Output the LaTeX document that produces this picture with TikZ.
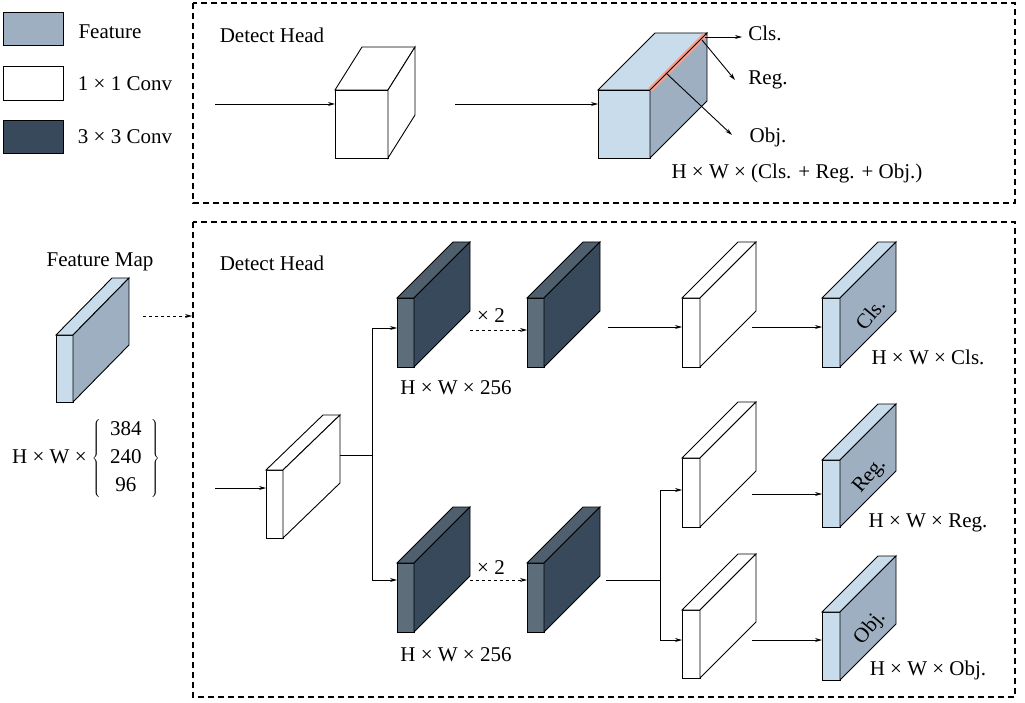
\documentclass[tikz,border=0pt]{standalone}
\usepackage{fontspec}
\setmainfont{Liberation Serif}
\usetikzlibrary{arrows.meta}
\definecolor{lb}{HTML}{C9DCEC}
\definecolor{gb}{HTML}{9DAFC0}
\definecolor{dkf}{HTML}{5D6D7A}
\definecolor{dkt}{HTML}{4F5F6D}
\definecolor{dks}{HTML}{37495A}
\definecolor{hl}{HTML}{F4A090}
\newcommand\cub[9]{%
\filldraw[fill=#7] (#1,#2) rectangle ++(#3,#4);
\filldraw[fill=#8] (#1,#2) -- ++(#5,-#6) -- ++(#3,0) -- ++(-#5,#6) -- cycle;
\filldraw[fill=#9] (#1+#3,#2) -- ++(#5,-#6) -- ++(0,#4) -- ++(-#5,#6) -- cycle;}
\begin{document}
\begin{tikzpicture}[x=1pt,y=-1pt,line width=0.9pt,
  txt/.style={font=\fontsize{21}{24}\selectfont,inner sep=0pt},
  arr/.style={-{Stealth[length=7pt,width=4pt]}},
  dbox/.style={dashed,line width=1.3pt,dash pattern=on 6pt off 4pt}]
\useasboundingbox (0,0) rectangle (1025,703);
% legend
\filldraw[fill=gb] (3,12) rectangle (63,45);
\node[txt] (lf) at (110,32) {Feature};
\filldraw[fill=white] (3,66) rectangle (63,100);
\node[txt] (l1) at (125,84) {1 × 1 Conv};
\filldraw[fill=dks] (3,120) rectangle (63,153);
\node[txt] (l3) at (125,137) {3 × 3 Conv};
% top box
\draw[dbox] (193,3) rectangle (1015,203);
\node[txt] (dh1) at (272,35) {Detect Head};
\coordinate (a0) at (215,104); \coordinate (a1) at (335,104);
\draw[arr] (a0) -- (a1);
\cub{335}{90}{53}{68}{27}{43}{white}{white}{white}
\coordinate (b0) at (455,104); \coordinate (b1) at (598,104);
\draw[arr] (b0) -- (b1);
\cub{598}{90}{52}{68}{57}{57}{lb}{lb}{gb}
\draw[hl,line width=5pt] (650,90) -- (705,35);
\draw (650,90) -- (707,33);
\node[txt] (cls) at (765,33) {Cls.};
\node[txt] (reg) at (768,80) {Reg.};
\node[txt] (obj) at (768,137) {Obj.};
\coordinate (c0) at (705,37); \coordinate (c1) at (742,37);
\coordinate (r0) at (702,40); \coordinate (r1) at (735,80);
\coordinate (o0) at (666,73); \coordinate (o1) at (732,135);
\draw[arr] (c0) -- (c1);
\draw[arr] (r0) -- (r1);
\draw[arr] (o0) -- (o1);
\node[txt] (hw1) at (797,173) {H × W × (Cls. + Reg. + Obj.)};
% bottom
\node[txt] (fm) at (100,262) {Feature Map};
\cub{56}{335}{17}{67}{56}{57}{lb}{lb}{gb}
\coordinate (d0) at (143,316); \coordinate (d1) at (192,316);
\draw[arr,dashed] (d0) -- (d1);
\node[txt] (dims) at (86,458) {H × W × $\left\{\vcenter{\hbox{\renewcommand\arraystretch{1.15}\begin{tabular}{@{\;\,}c@{\;\,}}384\\240\\96\end{tabular}}}\right\}$};
\draw[dbox] (193,222) rectangle (1015,697);
\node[txt] (dh2) at (272,263) {Detect Head};
\coordinate (e0) at (215,488); \coordinate (e1) at (266,488);
\draw[arr] (e0) -- (e1);
\cub{266}{470}{17}{68}{57}{55}{white}{white}{white}
\coordinate (s0) at (340,455); \coordinate (s1) at (372,455);
\coordinate (u1) at (397,328); \coordinate (l1b) at (397,580);
\draw (s0) -- (s1);
\draw[arr] (s1) |- (u1);
\draw[arr] (s1) |- (l1b);
% upper branch
\cub{397}{298}{17}{69}{56}{56}{dkf}{dkt}{dks}
\cub{527}{298}{17}{69}{56}{56}{dkf}{dkt}{dks}
\node[txt] (x2a) at (491,316) {× 2};
\coordinate (f0) at (470,330); \coordinate (f1) at (527,330);
\draw[arr,dashed] (f0) -- (f1);
\node[txt] (hwa) at (456,388) {H × W × 256};
\coordinate (g0) at (608,327); \coordinate (g1) at (682,327);
\draw[arr] (g0) -- (g1);
\cub{682}{298}{18}{69}{56}{56}{white}{white}{white}
\coordinate (h0) at (752,327); \coordinate (h1) at (822,327);
\draw[arr] (h0) -- (h1);
\cub{822}{298}{18}{69}{56}{56}{lb}{lb}{gb}
\node[txt,rotate=50] (tc) at (870,314) {Cls.};
\node[txt] (hwc) at (928,357) {H × W × Cls.};
% lower branch
\cub{397}{563}{17}{69}{56}{56}{dkf}{dkt}{dks}
\cub{527}{563}{17}{69}{56}{56}{dkf}{dkt}{dks}
\node[txt] (x2b) at (491,568) {× 2};
\coordinate (i0) at (470,580); \coordinate (i1) at (527,580);
\draw[arr,dashed] (i0) -- (i1);
\node[txt] (hwb) at (456,655) {H × W × 256};
\coordinate (j0) at (606,580); \coordinate (j1) at (660,580);
\coordinate (k1) at (682,490); \coordinate (k2) at (682,640);
\draw (j0) -- (j1);
\draw[arr] (j1) |- (k1);
\draw[arr] (j1) |- (k2);
\cub{682}{458}{18}{69}{56}{56}{white}{white}{white}
\cub{682}{610}{18}{68}{56}{56}{white}{white}{white}
\coordinate (m0) at (752,494); \coordinate (m1) at (822,494);
\draw[arr] (m0) -- (m1);
\cub{822}{460}{18}{67}{56}{56}{lb}{lb}{gb}
\node[txt,rotate=50] (tr) at (870,476) {Reg.};
\node[txt] (hwr) at (928,523) {H × W × Reg.};
\coordinate (n0) at (752,640); \coordinate (n1) at (822,640);
\draw[arr] (n0) -- (n1);
\cub{822}{612}{18}{68}{56}{56}{lb}{lb}{gb}
\node[txt,rotate=50] (to) at (870,628) {Obj.};
\node[txt] (hwo) at (928,670) {H × W × Obj.};
\end{tikzpicture}
\end{document}
